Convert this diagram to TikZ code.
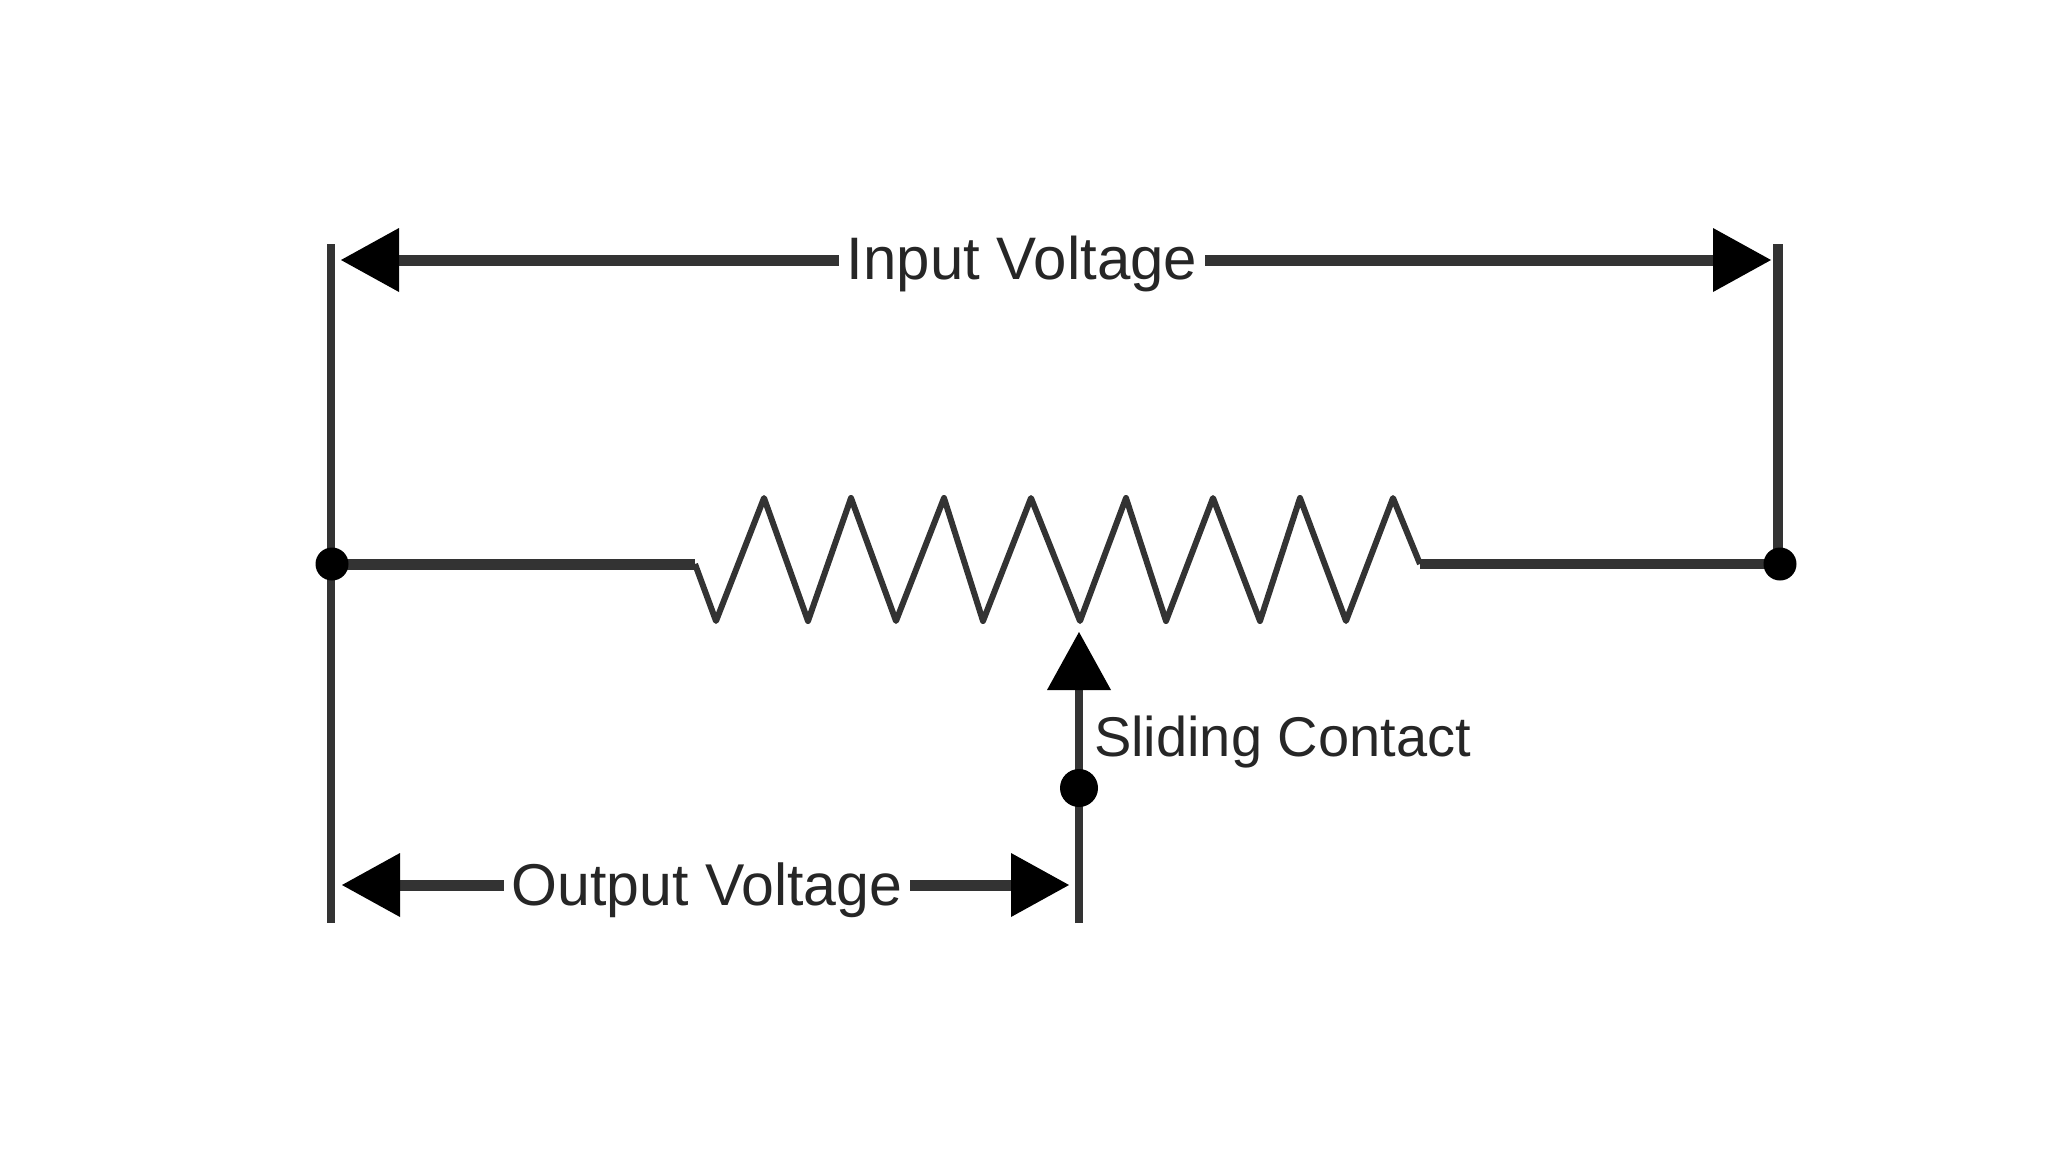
\documentclass[tikz,border=0pt]{standalone}
\usepackage{fontspec}
\setmainfont{Liberation Sans}
\usetikzlibrary{arrows.meta, backgrounds}

\tikzset{
    lbl/.style={inner sep=8pt, text=black!85, font=\fontsize{#1}{#1}\selectfont},
    dot/.style={circle, fill=black, inner sep=0pt, minimum size=#1},
    wire/.style={draw=black!80, line width=#1},
    tip/.style={-{Triangle[length=58pt, width=64pt, line width=0pt, color=black, fill=black]}},
}

\begin{document}
\begin{tikzpicture}[x=1pt, y=-1pt]
    \useasboundingbox (0,0) rectangle (2048,1152);

    % end points of the wires
    \coordinate (lefttop) at (331,244);
    \coordinate (leftbot) at (331,923);
    \coordinate (righttop) at (1778,244);
    \coordinate (reswest) at (695,564);
    \coordinate (reseast) at (1420,564);
    \coordinate (contactbot) at (1079,923);
    \coordinate (contacttip) at (1079,632);

    \node [dot=33pt] (leftdot) at (332,564) {};
    \node [dot=33pt] (rightdot) at (1780,564) {};
    \node [dot=38pt] (contactdot) at (1079,788) {};

    \node [lbl=60] (inlabel) at (1022,264) {Input Voltage};
    \node [lbl=59] (outlabel) at (707,890) {Output Voltage};
    \node [lbl=56, inner sep=0pt, anchor=west] (slidelabel) at (1094,742) {Sliding Contact};

    % tips of the dimension arrows
    \coordinate (inleft) at (341,260);
    \coordinate (inright) at (1771,260);
    \coordinate (outleft) at (342,885);
    \coordinate (outright) at (1069,885);

    % wires pass under the dots
    \begin{scope}[on background layer]
        \draw [wire=8pt] (lefttop) -- (leftbot);
        \draw [wire=8pt, tip] (contactbot) -- (contacttip);
        \draw [wire=10pt] (righttop) -- (righttop |- rightdot.center);
        \draw [wire=11pt] (leftdot.center) -- (reswest);
        \draw [wire=10pt] (reseast) -- (rightdot.center);
    \end{scope}

    % resistor
    \draw [wire=6pt, line join=round] (reswest) -- (716,621) -- (764,498) -- (808,621) -- (851,498) -- (896,621)
        -- (944,498) -- (983,621) -- (1031,498) -- (1080,621) -- (1126,498) -- (1166,621) -- (1213,498)
        -- (1260,621) -- (1300,498) -- (1346,621) -- (1393,498) -- (reseast);

    \draw [wire=11pt, tip] (inlabel.west |- inleft) -- (inleft);
    \draw [wire=11pt, tip] (inlabel.east |- inright) -- (inright);
    \draw [wire=11pt, tip] (outlabel.west |- outleft) -- (outleft);
    \draw [wire=11pt, tip] (outlabel.east |- outright) -- (outright);
\end{tikzpicture}
\end{document}
